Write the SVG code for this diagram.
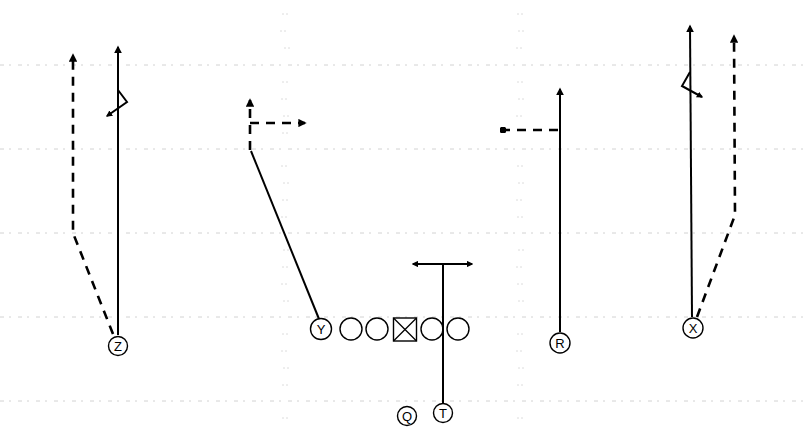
<svg xmlns="http://www.w3.org/2000/svg" width="809" height="438" viewBox="0 0 809 438">
<style>
.field{stroke:#d2d2d2;stroke-width:1;fill:none;stroke-dasharray:4 5 2 7}
.hash{stroke:#dcdcdc;stroke-width:1;fill:none;stroke-dasharray:2 2}
.solid{stroke:#000;stroke-width:2;fill:none}
.dash{stroke:#000;stroke-width:2.6;fill:none;stroke-dasharray:9 7}
.pl{fill:#fff;stroke:#000;stroke-width:1.4}
.lbl{font-family:"Liberation Sans",Arial,sans-serif;font-size:13px;fill:#000;text-anchor:middle;dominant-baseline:central}
</style>
<defs>
<marker id="ah" viewBox="0 0 10 10" refX="8" refY="5" markerWidth="4" markerHeight="4" orient="auto" markerUnits="strokeWidth">
<path d="M0,0 L10,5 L0,10 z" fill="#000"/>
</marker>
<marker id="ah2" viewBox="0 0 10 10" refX="8" refY="5" markerWidth="3.2" markerHeight="3.2" orient="auto" markerUnits="strokeWidth">
<path d="M0,0 L10,5 L0,10 z" fill="#000"/>
</marker>
<marker id="dot" viewBox="0 0 10 10" refX="5" refY="5" markerWidth="2.6" markerHeight="2.6" orient="auto" markerUnits="strokeWidth">
<circle cx="5" cy="5" r="5" fill="#000"/>
</marker>
</defs>
<rect width="809" height="438" fill="#fff"/>
<g id="field">
<line class="field" x1="0" y1="65" x2="809" y2="65"/>
<line class="field" x1="0" y1="149" x2="809" y2="149"/>
<line class="field" x1="0" y1="233" x2="809" y2="233"/>
<line class="field" x1="0" y1="317" x2="809" y2="317"/>
<line class="field" x1="0" y1="401" x2="809" y2="401"/>
<path class="hash" d="M282,14h8M280,31h8M284,48h7M282,82h8M281,99h8M283,116h7M282,133h8M281,166h8M283,183h8M282,200h7M281,217h8M283,250h8M282,267h7M281,284h8M283,301h8M282,334h8M281,351h8M283,368h7M282,385h8M282,418h7"/>
<path class="hash" d="M517,14h8M518,31h8M516,48h8M517,82h8M518,99h7M516,116h8M517,166h8M518,183h7M516,200h8M517,217h8M518,250h7M516,267h8M517,284h8M518,301h7M517,334h8M516,351h8M518,368h7M517,385h8M517,418h8"/>
</g>
<g id="connectors">
<line class="solid" x1="118" y1="335" x2="118" y2="47" marker-end="url(#ah)"/>
<polyline class="solid" points="118,90 127,102 107,116" marker-end="url(#ah2)"/>
<polyline class="dash" points="113,334 73,233 73,55" marker-end="url(#ah2)"/>
<line class="solid" x1="319" y1="319" x2="251" y2="151"/>
<line class="dash" x1="250" y1="150" x2="250" y2="100" marker-end="url(#ah2)"/>
<line class="dash" x1="250" y1="123" x2="305" y2="123" marker-end="url(#ah2)"/>
<line class="solid" x1="443" y1="403" x2="443" y2="264"/>
<line class="solid" x1="443" y1="264" x2="472" y2="264" marker-end="url(#ah2)"/>
<line class="solid" x1="443" y1="264" x2="413" y2="264" marker-end="url(#ah2)"/>
<line class="solid" x1="560" y1="332" x2="560" y2="89" marker-end="url(#ah)"/>
<line class="dash" x1="558" y1="130" x2="503" y2="130" marker-end="url(#dot)"/>
<line class="solid" x1="692" y1="317" x2="690" y2="26" marker-end="url(#ah)"/>
<polyline class="solid" points="690,72 682,86 702,97" marker-end="url(#ah2)"/>
<polyline class="dash" points="697,317 735,215 734,36" marker-end="url(#ah2)"/>
</g>
<g id="Z"><circle class="pl" cx="118" cy="346" r="9.5"/><text class="lbl" x="118" y="346.5">Z</text></g>
<g id="Y"><circle class="pl" cx="321" cy="329" r="10.5"/><text class="lbl" x="321" y="329.5">Y</text></g>
<g id="LT"><circle class="pl" cx="351" cy="329" r="11"/></g>
<g id="LG"><circle class="pl" cx="377" cy="329" r="11"/></g>
<g id="C"><rect class="pl" x="393.5" y="318" width="23" height="23"/><path d="M393.5,318L416.5,341M416.5,318L393.5,341" stroke="#000" stroke-width="1.3"/></g>
<g id="RG"><circle class="pl" cx="432" cy="329" r="11"/></g>
<g id="RT"><circle class="pl" cx="458" cy="329" r="11"/></g>
<g id="Q"><circle class="pl" cx="407" cy="416" r="9.5"/><text class="lbl" x="407" y="416.5">Q</text></g>
<g id="T"><circle class="pl" cx="443" cy="413" r="9.5"/><text class="lbl" x="443" y="413.5">T</text></g>
<g id="R"><circle class="pl" cx="560" cy="343" r="10"/><text class="lbl" x="560" y="343.5">R</text></g>
<g id="X"><circle class="pl" cx="693" cy="328" r="10"/><text class="lbl" x="693" y="328.5">X</text></g>
<line class="solid" x1="443" y1="340" x2="443" y2="318"/>
</svg>
